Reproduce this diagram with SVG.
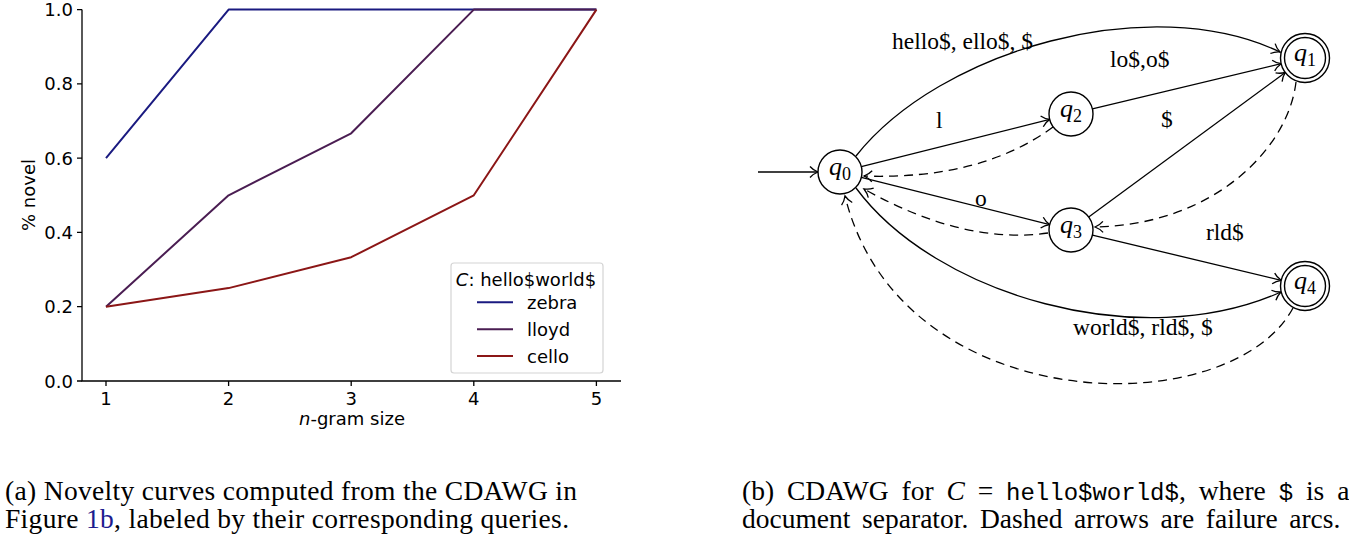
<svg xmlns="http://www.w3.org/2000/svg" width="1349" height="542" viewBox="0 0 1349 542">
<style>
.ax{stroke:#000;stroke-width:1.3;fill:none}
.tk{font-family:"DejaVu Sans",sans-serif;font-size:18px;fill:#000}
.cap{font-family:"Liberation Serif",serif;font-size:27.5px;fill:#000}
.mono{font-family:"Liberation Mono",monospace;font-size:24px}
.el{font-family:"Liberation Serif",serif;font-size:23.5px;fill:#000}
.nl{font-family:"Liberation Serif",serif;font-size:26px;fill:#000}
.node{fill:#fff;stroke:#000;stroke-width:1.4}
.edge{fill:none;stroke:#000;stroke-width:1.3;marker-end:url(#arr)}
.dash{stroke-dasharray:9 6}
.ser{fill:none;stroke-width:2;stroke-linejoin:round}
</style>
<defs>
<marker id="arr" viewBox="-10 -7 12 14" refX="0" refY="0" markerWidth="12" markerHeight="14" markerUnits="userSpaceOnUse" orient="auto">
<path d="M-8,-5.5 C-5,-2 -1.5,-0.6 0,0 C-1.5,0.6 -5,2 -8,5.5" fill="none" stroke="#000" stroke-width="1.3" stroke-dasharray="none"/>
</marker>
</defs>
<rect width="1349" height="542" fill="#fff"/>

<g id="chart">
<path class="ax" d="M82,9.6 V381 H621"/>
<path class="ax" d="M77,381H82M77,306.7H82M77,232.4H82M77,158.2H82M77,83.9H82M77,9.6H82"/>
<g class="tk" text-anchor="end">
<text x="73" y="387.5">0.0</text>
<text x="73" y="313.2">0.2</text>
<text x="73" y="238.9">0.4</text>
<text x="73" y="164.7">0.6</text>
<text x="73" y="90.4">0.8</text>
<text x="73" y="16.1">1.0</text>
</g>
<path class="ax" d="M106,381V386M228.6,381V386M351.2,381V386M473.8,381V386M596.4,381V386"/>
<g class="tk" text-anchor="middle">
<text x="106" y="405">1</text>
<text x="228.6" y="405">2</text>
<text x="351.2" y="405">3</text>
<text x="473.8" y="405">4</text>
<text x="596.4" y="405">5</text>
<text x="352" y="425"><tspan font-style="italic">n</tspan>-gram size</text>
<text transform="translate(35,195) rotate(-90)">% novel</text>
</g>
<polyline class="ser" stroke="#1a1a80" points="106,158.2 228.6,9.6 351.2,9.6 473.8,9.6 596.4,9.6"/>
<polyline class="ser" stroke="#4a1d52" points="106,306.7 228.6,195.3 351.2,133.3 473.8,9.6 596.4,9.6"/>
<polyline class="ser" stroke="#8b1616" points="106,306.7 228.6,288.1 351.2,257.2 473.8,195.3 596.4,9.6"/>
<g id="legend">
<rect x="451" y="263" width="152" height="110" rx="3" fill="#fff" fill-opacity="0.85" stroke="#d4d4d4" stroke-width="1.2"/>
<text class="tk" x="526" y="286" text-anchor="middle" font-size="17"><tspan font-style="italic">C</tspan>: hello$world$</text>
<line x1="477" y1="302.3" x2="513" y2="302.3" stroke="#1a1a80" stroke-width="2"/>
<line x1="477" y1="329.3" x2="513" y2="329.3" stroke="#4a1d52" stroke-width="2"/>
<line x1="477" y1="356" x2="513" y2="356" stroke="#8b1616" stroke-width="2"/>
<text class="tk" x="527" y="308.8">zebra</text>
<text class="tk" x="527" y="335.8">lloyd</text>
<text class="tk" x="527" y="362.5">cello</text>
</g>
</g>

<g id="connectors">
<path class="edge" d="M758,172 H818"/>
<path class="edge" d="M856,156 C940,50 1150,-10 1280,52"/>
<path class="edge" d="M861.3,166.6 L1049.7,119.4"/>
<path class="edge dash" d="M1053,127 Q981,180 864,176"/>
<path class="edge" d="M1092.4,108.9 L1281.2,63.7"/>
<path class="edge" d="M861.3,177.4 L1049.7,224.6"/>
<path class="edge dash" d="M1048,233 Q964,245 864,189"/>
<path class="edge" d="M1088.7,217 L1285.3,72.5"/>
<path class="edge dash" d="M1296,82 C1288,150 1212,225 1095,227"/>
<path class="edge" d="M1092.4,235.1 L1281.2,280.3"/>
<path class="edge" d="M856,188 C935,295 1140,355 1281,292"/>
<path class="edge dash" d="M1293,308 C1230,425 900,420 845,196"/>
</g>

<g id="edge-labels" class="el">
<text x="892" y="49">hello$, ello$, $</text>
<text x="1110" y="67">lo$,o$</text>
<text x="936" y="128">l</text>
<text x="1161" y="127">$</text>
<text x="975" y="206">o</text>
<text x="1206" y="240">rld$</text>
<text x="1073" y="335">world$, rld$, $</text>
</g>

<g id="q0"><circle class="node" cx="840" cy="172" r="22"/><text class="nl" x="840" y="175" text-anchor="middle"><tspan font-style="italic">q</tspan><tspan font-size="18" dy="4.5">0</tspan></text></g>
<g id="q2"><circle class="node" cx="1071" cy="114" r="22"/><text class="nl" x="1071" y="117" text-anchor="middle"><tspan font-style="italic">q</tspan><tspan font-size="18" dy="4.5">2</tspan></text></g>
<g id="q3"><circle class="node" cx="1071" cy="230" r="22"/><text class="nl" x="1071" y="233" text-anchor="middle"><tspan font-style="italic">q</tspan><tspan font-size="18" dy="4.5">3</tspan></text></g>
<g id="q1"><circle class="node" cx="1305" cy="58" r="24.5"/><circle class="node" cx="1305" cy="58" r="20.5"/><text class="nl" x="1305" y="61" text-anchor="middle"><tspan font-style="italic">q</tspan><tspan font-size="18" dy="4.5">1</tspan></text></g>
<g id="q4"><circle class="node" cx="1305" cy="286" r="24.5"/><circle class="node" cx="1305" cy="286" r="20.5"/><text class="nl" x="1305" y="289" text-anchor="middle"><tspan font-style="italic">q</tspan><tspan font-size="18" dy="4.5">4</tspan></text></g>

<g id="captions" class="cap">
<text x="5" y="500" textLength="572" lengthAdjust="spacing">(a) Novelty curves computed from the CDAWG in</text>
<text x="5" y="528" textLength="564" lengthAdjust="spacing">Figure <tspan fill="#1c1c8f">1b</tspan>, labeled by their corresponding queries.</text>
<text x="742" y="500" word-spacing="6">(b) CDAWG for <tspan font-style="italic">C</tspan> = <tspan class="mono">hello$world$</tspan>, where <tspan class="mono">$</tspan> is a</text>
<text x="742" y="528" word-spacing="4.8">document separator. Dashed arrows are failure arcs.</text>
</g>
</svg>
